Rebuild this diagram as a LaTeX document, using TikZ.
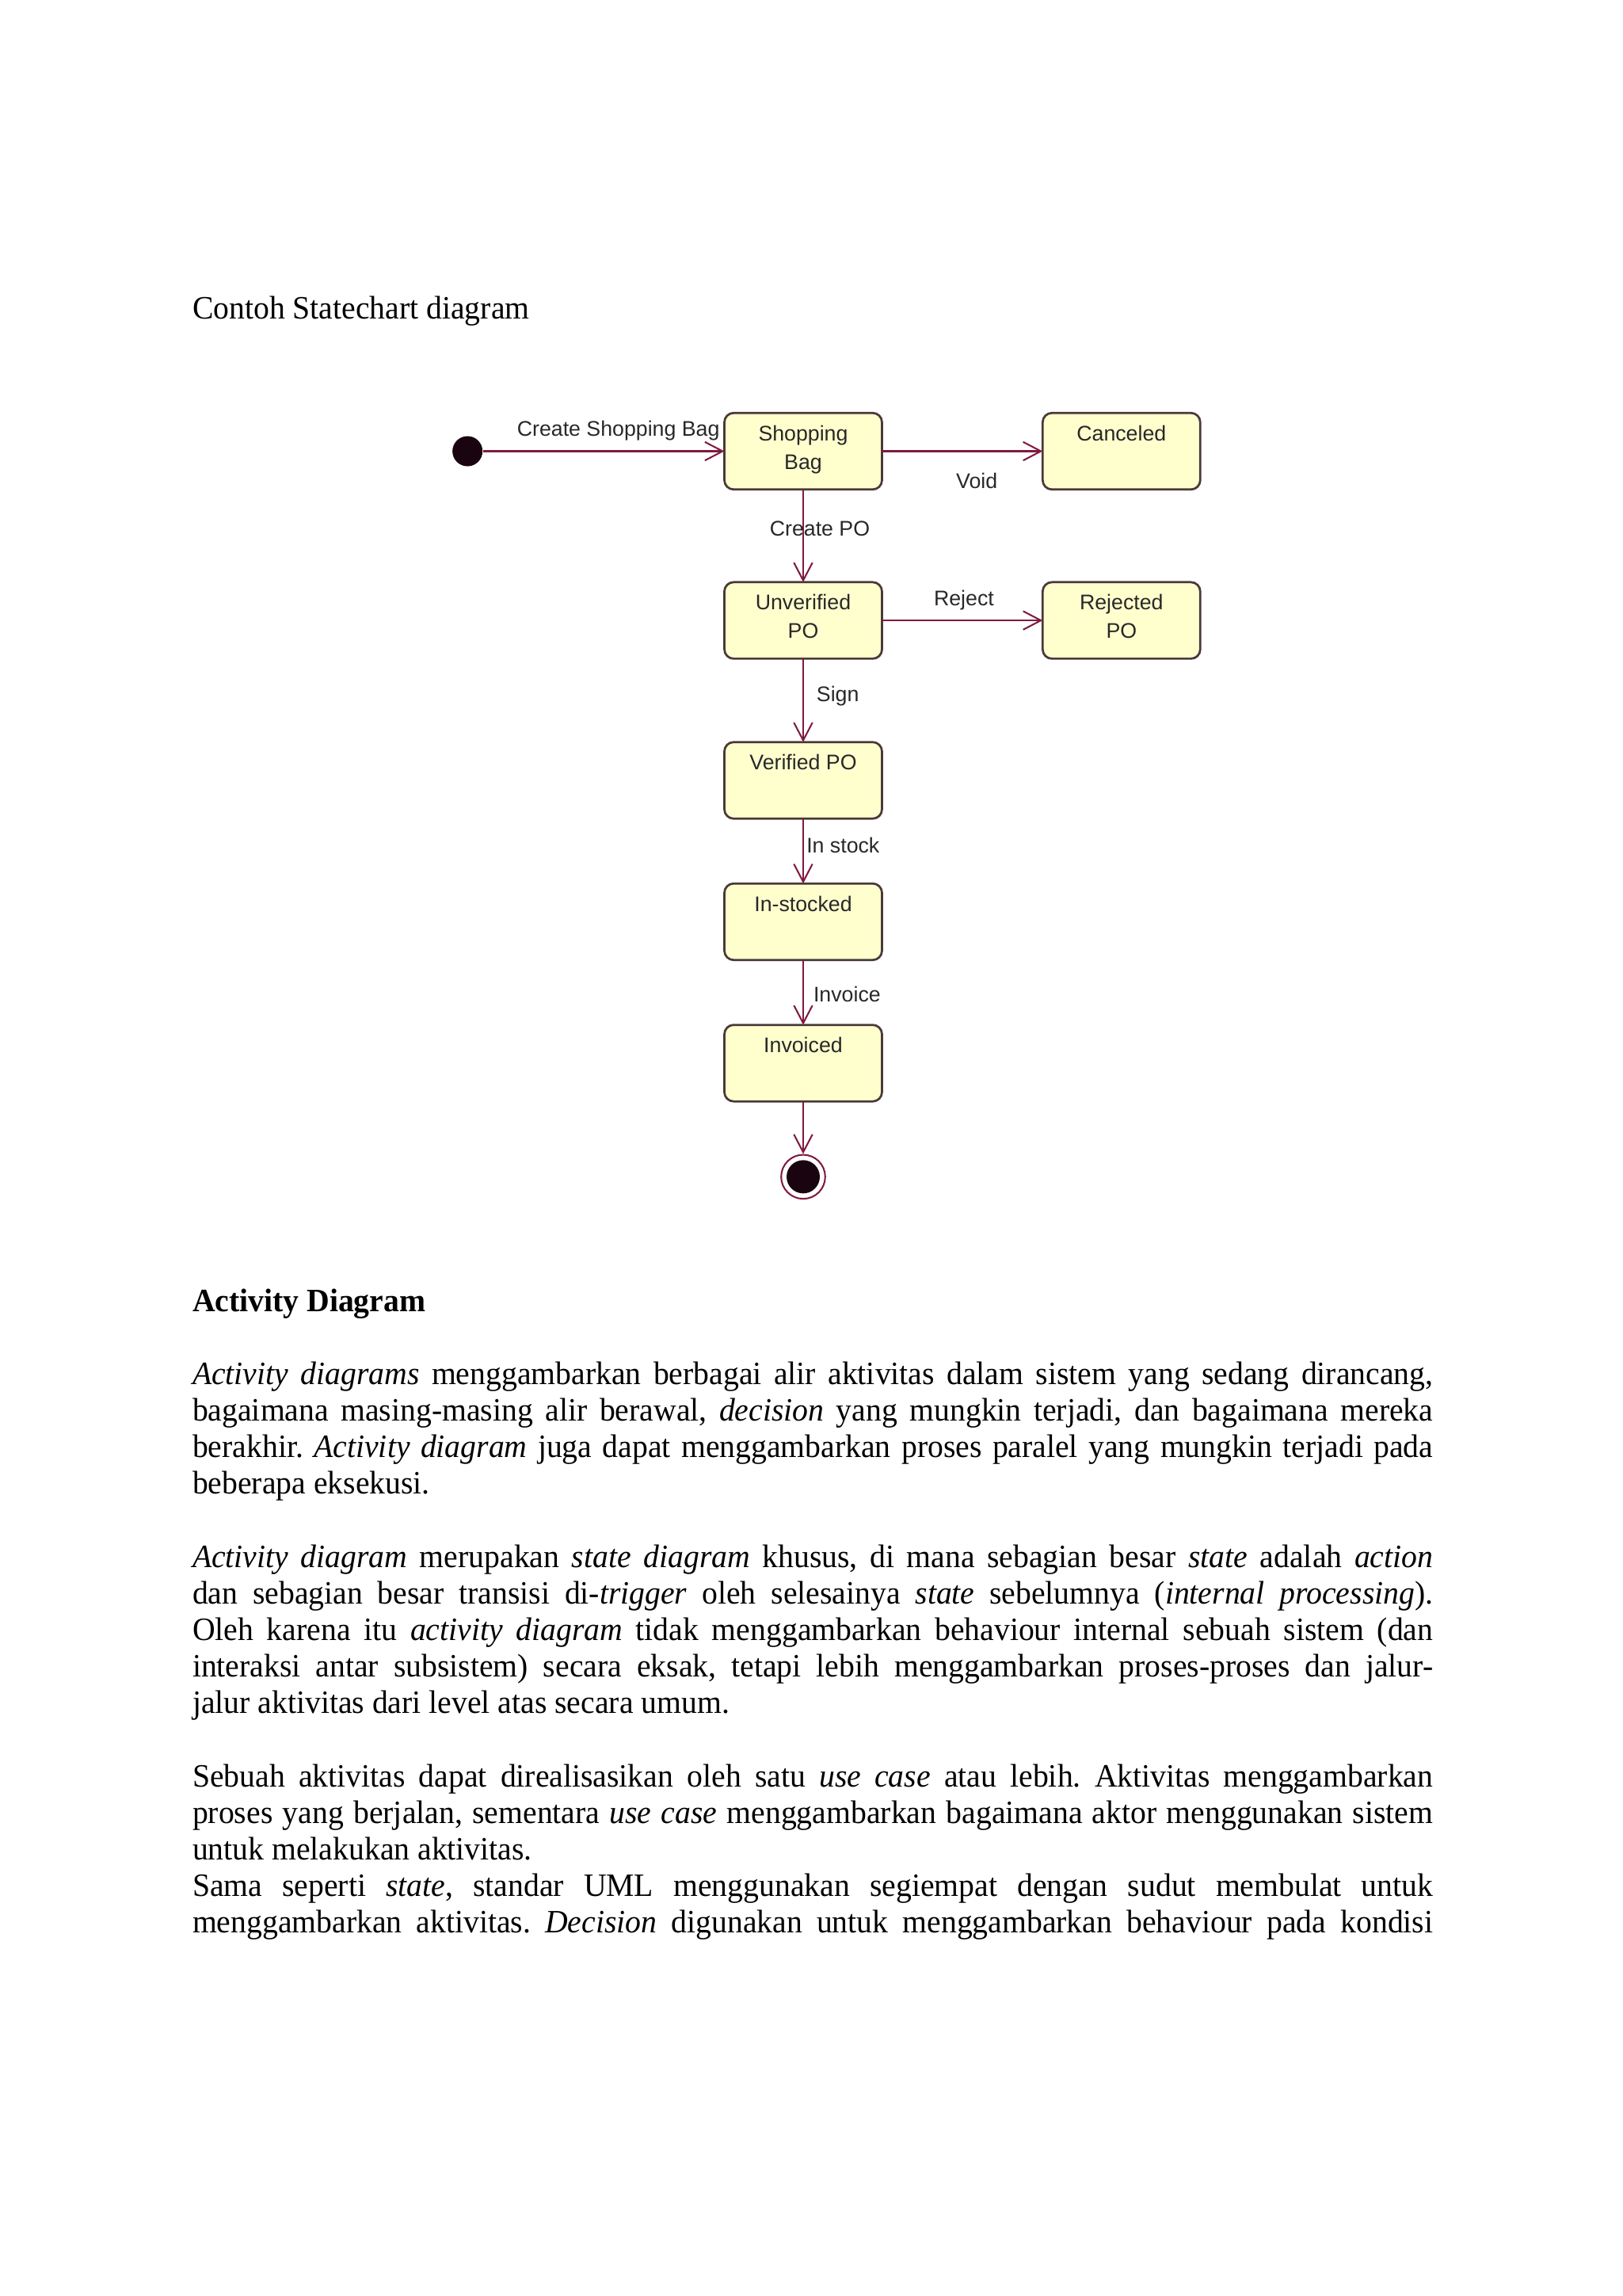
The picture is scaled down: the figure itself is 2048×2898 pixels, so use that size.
\documentclass[tikz,border=0pt]{standalone}
\usepackage{fontspec}
\setmainfont[FakeStretch=0.965]{Liberation Serif}
\newfontfamily\diagfont{Liberation Sans}
\usetikzlibrary{positioning}
\usetikzlibrary{arrows.meta}
\definecolor{boxfill}{RGB}{255,255,206}
\definecolor{boxline}{RGB}{74,58,58}
\definecolor{edgecol}{RGB}{128,26,64}
\definecolor{dotcol}{RGB}{26,4,16}
\definecolor{labelcol}{RGB}{40,40,40}
\newcommand{\blankrow}{\par\vspace{\baselineskip}}
\frenchspacing

\begin{document}
\begin{tikzpicture}[x=0.01025cm, y=-0.01025cm, -{Straight Barb[length=2.3mm,width=2.4mm]}, auto, semithick,
state/.style ={rectangle, rounded corners=1.2mm, draw=boxline, fill=boxfill, thick, outer sep=0pt, minimum width=2.04cm, minimum height=0.99cm},
stname/.style ={anchor=north, align=center, inner sep=0pt, label distance=-1.5mm, text=labelcol, font=\diagfont\fontsize{7.8}{10.5}\selectfont},
trans/.style ={draw=edgecol},
lbl/.style ={text=labelcol, inner sep=3.5pt, font=\diagfont\fontsize{7.8}{10.5}\selectfont},
bodytext/.style ={inner sep=0pt, font=\fontsize{12}{13.47}\selectfont},
start/.style ={circle, fill=dotcol, minimum size=0.39cm, inner sep=0pt},
stop/.style ={circle, draw=edgecol, fill=white, minimum size=0.57cm, inner sep=0pt, path picture={\fill[dotcol] (path picture bounding box.center) circle (0.215cm);}}]
\useasboundingbox (0,0) rectangle (2048,2898);
\node[bodytext, anchor=base west] (T) at (242,402) {Contoh Statechart diagram};
\node[state] (SB) at (1014,569.5) [label={[stname]north:{Shopping\\Bag}}] {};
\node[state] (CA) [right =2.08cm of SB, label={[stname]north:Canceled}] {};
\node[state] (UP) [below =1.2cm of SB, label={[stname]north:{Unverified\\PO}}] {};
\node[state] (RP) [right =2.08cm of UP, label={[stname]north:{Rejected\\PO}}] {};
\node[state] (VP) [below =1.08cm of UP, label={[stname]north:Verified PO}] {};
\node[state] (IS) [below =0.84cm of VP, label={[stname]north:In-stocked}] {};
\node[state] (IV) [below =0.84cm of IS, label={[stname]north:Invoiced}] {};
\node[start] (I) [left =3.12cm of SB] {};
\node[stop] (F) [below =0.68cm of IV] {};
\draw[trans] (I) -- node[lbl, pos=0.56] {Create Shopping Bag} (SB);
\draw[trans] (SB) -- node[lbl, swap, pos=0.59, yshift=-0.15cm] {Void} (CA);
\draw[trans] (SB) -- node[lbl, auto=false, pos=0.42, xshift=0.215cm] {Create PO} (UP);
\draw[trans] (UP) -- node[lbl, pos=0.51] {Reject} (RP);
\draw[trans] (UP) -- node[lbl, pos=0.45, xshift=0.04cm] {Sign} (VP);
\draw[trans] (VP) -- node[lbl, pos=0.41, xshift=-0.09cm] {In stock} (IS);
\draw[trans] (IS) -- node[lbl, pos=0.53] {Invoice} (IV);
\draw[trans] (IV) -- (F);
\node[bodytext, anchor=base west, text width=16.06cm, align=justify] (AD) at (242,1655) {%
\setlength{\parindent}{0pt}\hyphenpenalty=10000 \tolerance=9999
\textbf{Activity Diagram}\blankrow
\emph{Activity diagrams} menggambarkan berbagai alir aktivitas dalam sistem yang sedang dirancang,\linebreak
bagaimana masing-masing alir berawal, \emph{decision} yang mungkin terjadi, dan bagaimana mereka\linebreak
berakhir. \emph{Activity diagram} juga dapat menggambarkan proses paralel yang mungkin terjadi pada\linebreak
beberapa eksekusi.\blankrow
\emph{Activity diagram} merupakan \emph{state diagram} khusus, di mana sebagian besar \emph{state} adalah \emph{action}\linebreak
dan sebagian besar transisi di-\emph{trigger} oleh selesainya \emph{state} sebelumnya (\emph{internal processing}).\linebreak
Oleh karena itu \emph{activity diagram} tidak menggambarkan behaviour internal sebuah sistem (dan\linebreak
interaksi antar subsistem) secara eksak, tetapi lebih menggambarkan proses-proses dan jalur-\linebreak
jalur aktivitas dari level atas secara umum.\blankrow
Sebuah aktivitas dapat direalisasikan oleh satu \emph{use case} atau lebih. Aktivitas menggambarkan\linebreak
proses yang berjalan, sementara \emph{use case} menggambarkan bagaimana aktor menggunakan sistem\linebreak
untuk melakukan aktivitas.\par
{\parfillskip=0pt Sama seperti \emph{state}, standar UML menggunakan segiempat dengan sudut membulat untuk\linebreak
menggambarkan aktivitas. \emph{Decision} digunakan untuk menggambarkan behaviour pada kondisi\par}};
\end{tikzpicture}
\end{document}
